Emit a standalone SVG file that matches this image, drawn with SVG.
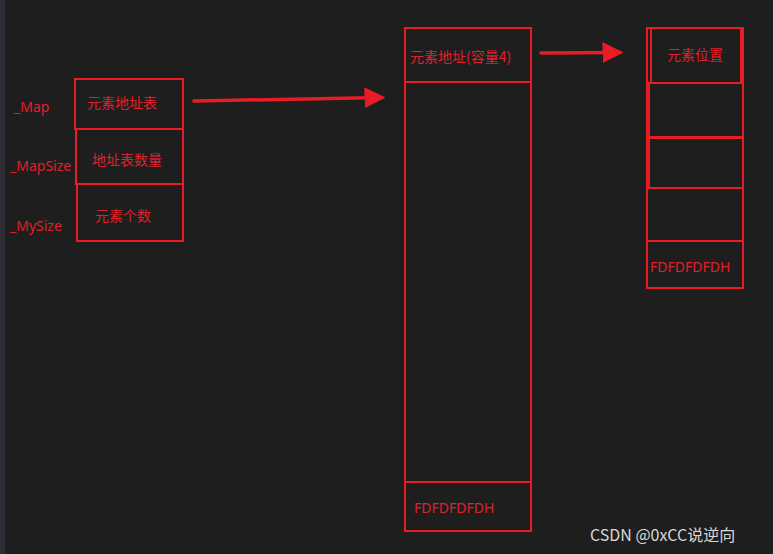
<svg xmlns="http://www.w3.org/2000/svg" width="773" height="554" viewBox="0 0 773 554">
<style>
.b{fill:none;stroke:#e81c24;stroke-width:2}
.t{fill:#e0202a;font-family:"Noto Sans CJK SC","Liberation Sans",sans-serif;font-size:14px}
.l{fill:#e0202a;font-family:"Noto Sans","Liberation Sans",sans-serif;font-size:14px}
</style>
<defs><marker id="ah" markerWidth="6" markerHeight="6" refX="5" refY="3" orient="auto" markerUnits="strokeWidth"><path d="M0,0 L6,3 L0,6 z" fill="#e81c24"/></marker></defs>
<rect width="773" height="554" fill="#1e1e1e"/>
<rect width="5" height="554" fill="#2b2e35"/>
<g id="labels">
<text class="l" x="14" y="112">_Map</text>
<text class="l" x="10" y="171">_MapSize</text>
<text class="l" x="10" y="231">_MySize</text>
</g>
<g id="map"><rect class="b" x="75" y="79" width="108" height="50"/><text class="t" x="87" y="108">元素地址表</text></g>
<g id="mapsize"><rect class="b" x="76" y="129" width="107" height="55"/><text class="t" x="92" y="165">地址表数量</text></g>
<g id="mysize"><rect class="b" x="77" y="184" width="106" height="57"/><text class="t" x="95" y="221">元素个数</text></g>
<g id="addr">
<rect class="b" x="405" y="28" width="126" height="503"/>
<rect class="b" x="405" y="28" width="126" height="54"/>
<line class="b" x1="405" y1="482" x2="531" y2="482"/>
<text class="t" x="410" y="62">元素地址(容量4)</text>
<text class="l" x="414" y="513">FDFDFDFDH</text>
</g>
<g id="pos">
<rect class="b" x="647" y="28" width="96" height="260"/>
<rect class="b" x="651" y="28" width="90" height="55"/>
<rect class="b" x="649" y="83" width="94" height="54"/>
<rect class="b" x="649" y="138" width="94" height="50"/>
<line class="b" x1="647" y1="188" x2="743" y2="188"/>
<line class="b" x1="647" y1="241" x2="743" y2="241"/>
<text class="t" x="667" y="60">元素位置</text>
<text class="l" x="650" y="272">FDFDFDFDH</text>
</g>
<g id="connectors">
<line x1="194" y1="101" x2="382" y2="97.5" stroke="#e81c24" stroke-width="3.5" stroke-linecap="round" marker-end="url(#ah)"/>
<line x1="541" y1="53" x2="620" y2="52.5" stroke="#e81c24" stroke-width="3.5" stroke-linecap="round" marker-end="url(#ah)"/>
</g>
<text x="590" y="541" fill="#d8d8d8" font-family="'Noto Sans CJK SC',sans-serif" font-size="16">CSDN @0xCC说逆向</text>
</svg>
